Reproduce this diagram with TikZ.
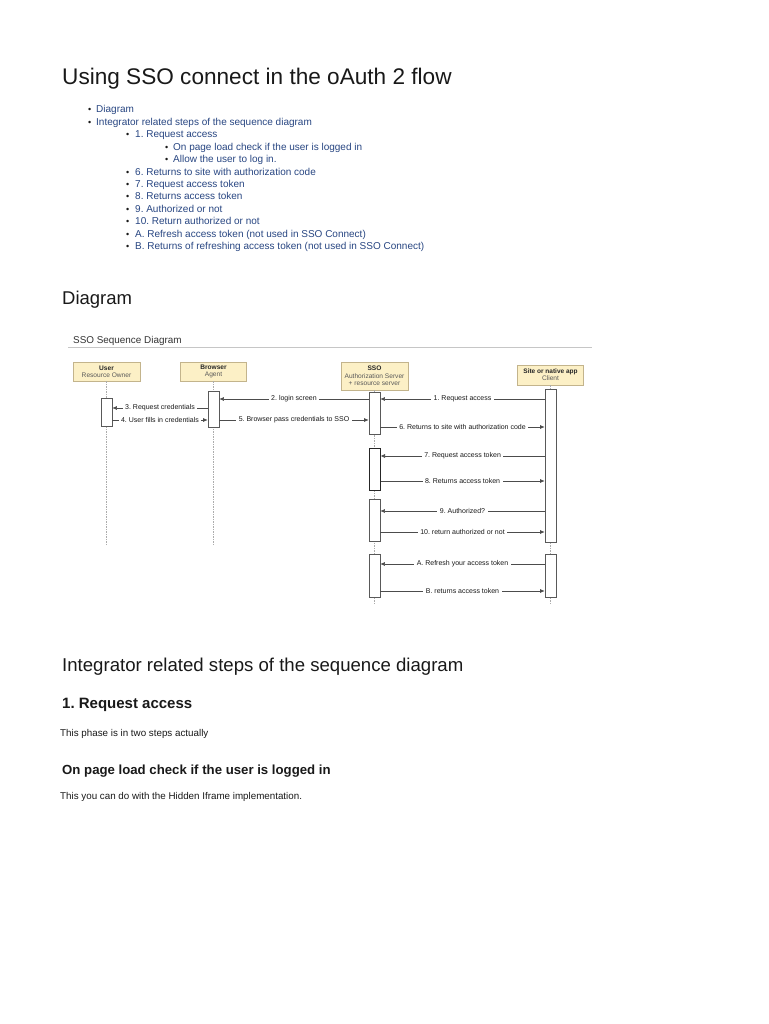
\documentclass[tikz,border=0pt]{standalone}
\usepackage{fontspec}
\setmainfont{Liberation Sans}
\usetikzlibrary{arrows.meta}
\definecolor{linkblue}{RGB}{40,70,130}
\definecolor{headfill}{RGB}{252,240,198}
\definecolor{headdraw}{RGB}{195,180,140}
\definecolor{txtdark}{RGB}{25,25,25}
\frenchspacing
\begin{document}
\frenchspacing
\begin{tikzpicture}[x=1pt,y=-1pt,
  txt/.style={anchor=base west, inner sep=0pt, text=txtdark},
  lnk/.style={anchor=base west, inner sep=0pt, text=linkblue, font=\fontsize{10}{12}\selectfont},
  bul/.style={anchor=base west, inner sep=0pt, text=txtdark, font=\fontsize{9}{12}\selectfont},
  head/.style={draw=headdraw, fill=headfill, line width=0.8pt, inner sep=0pt, align=center,
    font=\fontsize{6.6}{7.3}\selectfont, text=black!65},
  life/.style={draw=gray!65, line width=0.7pt, dash pattern=on 1.5pt off 1pt},
  act/.style={draw=black!65, fill=white, line width=0.7pt, minimum width=11, inner sep=0pt},
  msg/.style={draw=black!70, line width=0.6pt, -{Latex[length=4.5pt,width=4pt]}},
  lbl/.style={fill=white, inner xsep=2.5pt, inner ysep=1pt, font=\fontsize{7}{7}\selectfont, text=black!90}
]
\useasboundingbox[fill=white] (0,0) rectangle (768,1024);

% Title and list
\node[txt, font=\fontsize{22.6}{26}\selectfont] (title) at (62,85) {Using SSO connect in the oAuth 2 flow};

\node[bul] (b1) at (88,113) {•};   \node[lnk] (l1) at (96,113) {Diagram};
\node[bul] (b2) at (88,125.5) {•}; \node[lnk] (l2) at (96,125.5) {Integrator related steps of the sequence diagram};
\node[bul] (b3) at (126,138) {•};  \node[lnk] (l3) at (135,138) {1. Request access};
\node[bul] (b4) at (165,150.5) {•};\node[lnk] (l4) at (173,150.5) {On page load check if the user is logged in};
\node[bul] (b5) at (165,162.7) {•};\node[lnk] (l5) at (173,162.7) {Allow the user to log in.};
\node[bul] (b6) at (126,175.3) {•};\node[lnk] (l6) at (135,175.3) {6. Returns to site with authorization code};
\node[bul] (b7) at (126,187.7) {•};\node[lnk] (l7) at (135,187.7) {7. Request access token};
\node[bul] (b8) at (126,200) {•};  \node[lnk] (l8) at (135,200) {8. Returns access token};
\node[bul] (b9) at (126,212.4) {•};\node[lnk] (l9) at (135,212.4) {9. Authorized or not};
\node[bul] (b10) at (126,224.8) {•};\node[lnk] (l10) at (135,224.8) {10. Return authorized or not};
\node[bul] (b11) at (126,237.2) {•};\node[lnk] (l11) at (135,237.2) {A. Refresh access token (not used in SSO Connect)};
\node[bul] (b12) at (126,249.6) {•};\node[lnk] (l12) at (135,249.6) {B. Returns of refreshing access token (not used in SSO Connect)};

\node[txt, font=\fontsize{18.5}{22}\selectfont] (hdiag) at (62,304) {Diagram};

% Diagram
\node[txt, font=\fontsize{9.9}{12}\selectfont, text=black!80] (dtitle) at (73,343) {SSO Sequence Diagram};
\draw[draw=gray!45, line width=1pt] (68,347) -- (592,347);

\node[head, minimum width=67, minimum height=19] (hu) at (106.5,371.5) {\textbf{\textcolor{black!85}{User}}\\Resource Owner};
\node[head, minimum width=66, minimum height=19] (hb) at (213.5,371.5) {\textbf{\textcolor{black!85}{Browser}}\\Agent};
\node[head, minimum width=67, minimum height=28] (hs) at (374.5,376) {\textbf{\textcolor{black!85}{SSO}}\\Authorization Server\\+ resource server};
\node[head, minimum width=66, minimum height=20] (hc) at (550.5,375) {\textbf{\textcolor{black!85}{\fontsize{6.5}{7}\selectfont Site or native app}}\\Client};

\coordinate (eu) at (106.5,545);
\coordinate (eb) at (213.5,545);
\coordinate (es) at (374.5,603);
\coordinate (ec) at (550.5,603);
\draw[life] (hu.south) -- (eu);
\draw[life] (hb.south) -- (eb);
\draw[life] (hs.south) -- (es);
\draw[life] (hc.south) -- (ec);

\node[act, minimum height=28] (ua) at (106.5,412) {};
\node[act, minimum height=36] (ba) at (213.5,409) {};
\node[act, minimum height=42] (sa1) at (374.5,413) {};
\node[act, minimum height=42, line width=1pt, draw=black!85] (sa2) at (374.5,469) {};
\node[act, minimum height=42] (sa3) at (374.5,520) {};
\node[act, minimum height=43] (sa4) at (374.5,575.5) {};
\node[act, minimum height=153] (ca1) at (550.5,465.5) {};
\node[act, minimum height=43] (ca2) at (550.5,575.5) {};

\coordinate (m1) at (0,399);
\coordinate (m3) at (0,408);
\coordinate (m4) at (0,420);
\coordinate (m6) at (0,427);
\coordinate (m7) at (0,456);
\coordinate (m8) at (0,481);
\coordinate (m9) at (0,511);
\coordinate (m10) at (0,532);
\coordinate (mA) at (0,564);
\coordinate (mB) at (0,591);

\draw[msg] (ca1.west |- m1) -- node[lbl]{1. Request access} (sa1.east |- m1);
\draw[msg] (sa1.west |- m1) -- node[lbl]{2. login screen} (ba.east |- m1);
\draw[msg] (ba.west |- m3) -- node[lbl]{3. Request credentials} (ua.east |- m3);
\draw[msg] (ua.east |- m4) -- node[lbl]{4. User fills in credentials} (ba.west |- m4);
\draw[msg] (ba.east |- m4) -- node[lbl]{5. Browser pass credentials to SSO} (sa1.west |- m4);
\draw[msg] (sa1.east |- m6) -- node[lbl]{6. Returns to site with authorization code} (ca1.west |- m6);
\draw[msg] (ca1.west |- m7) -- node[lbl]{7. Request access token} (sa2.east |- m7);
\draw[msg] (sa2.east |- m8) -- node[lbl]{8. Returns access token} (ca1.west |- m8);
\draw[msg] (ca1.west |- m9) -- node[lbl]{9. Authorized?} (sa3.east |- m9);
\draw[msg] (sa3.east |- m10) -- node[lbl]{10. return authorized or not} (ca1.west |- m10);
\draw[msg] (ca2.west |- mA) -- node[lbl]{A. Refresh your access token} (sa4.east |- mA);
\draw[msg] (sa4.east |- mB) -- node[lbl]{B. returns access token} (ca2.west |- mB);

% Lower text
\node[txt, font=\fontsize{18.6}{22}\selectfont] (hint) at (62,671.5) {Integrator related steps of the sequence diagram};
\node[txt, font=\bfseries\fontsize{15}{18}\selectfont] (hreq) at (62,708) {1. Request access};
\node[txt, font=\fontsize{9.8}{12}\selectfont] (p1) at (60,736.5) {This phase is in two steps actually};
\node[txt, font=\bfseries\fontsize{13.2}{16}\selectfont] (hpl) at (62,774) {On page load check if the user is logged in};
\node[txt, font=\fontsize{9.8}{12}\selectfont] (p2) at (60,799.5) {This you can do with the Hidden Iframe implementation.};
\end{tikzpicture}
\end{document}
